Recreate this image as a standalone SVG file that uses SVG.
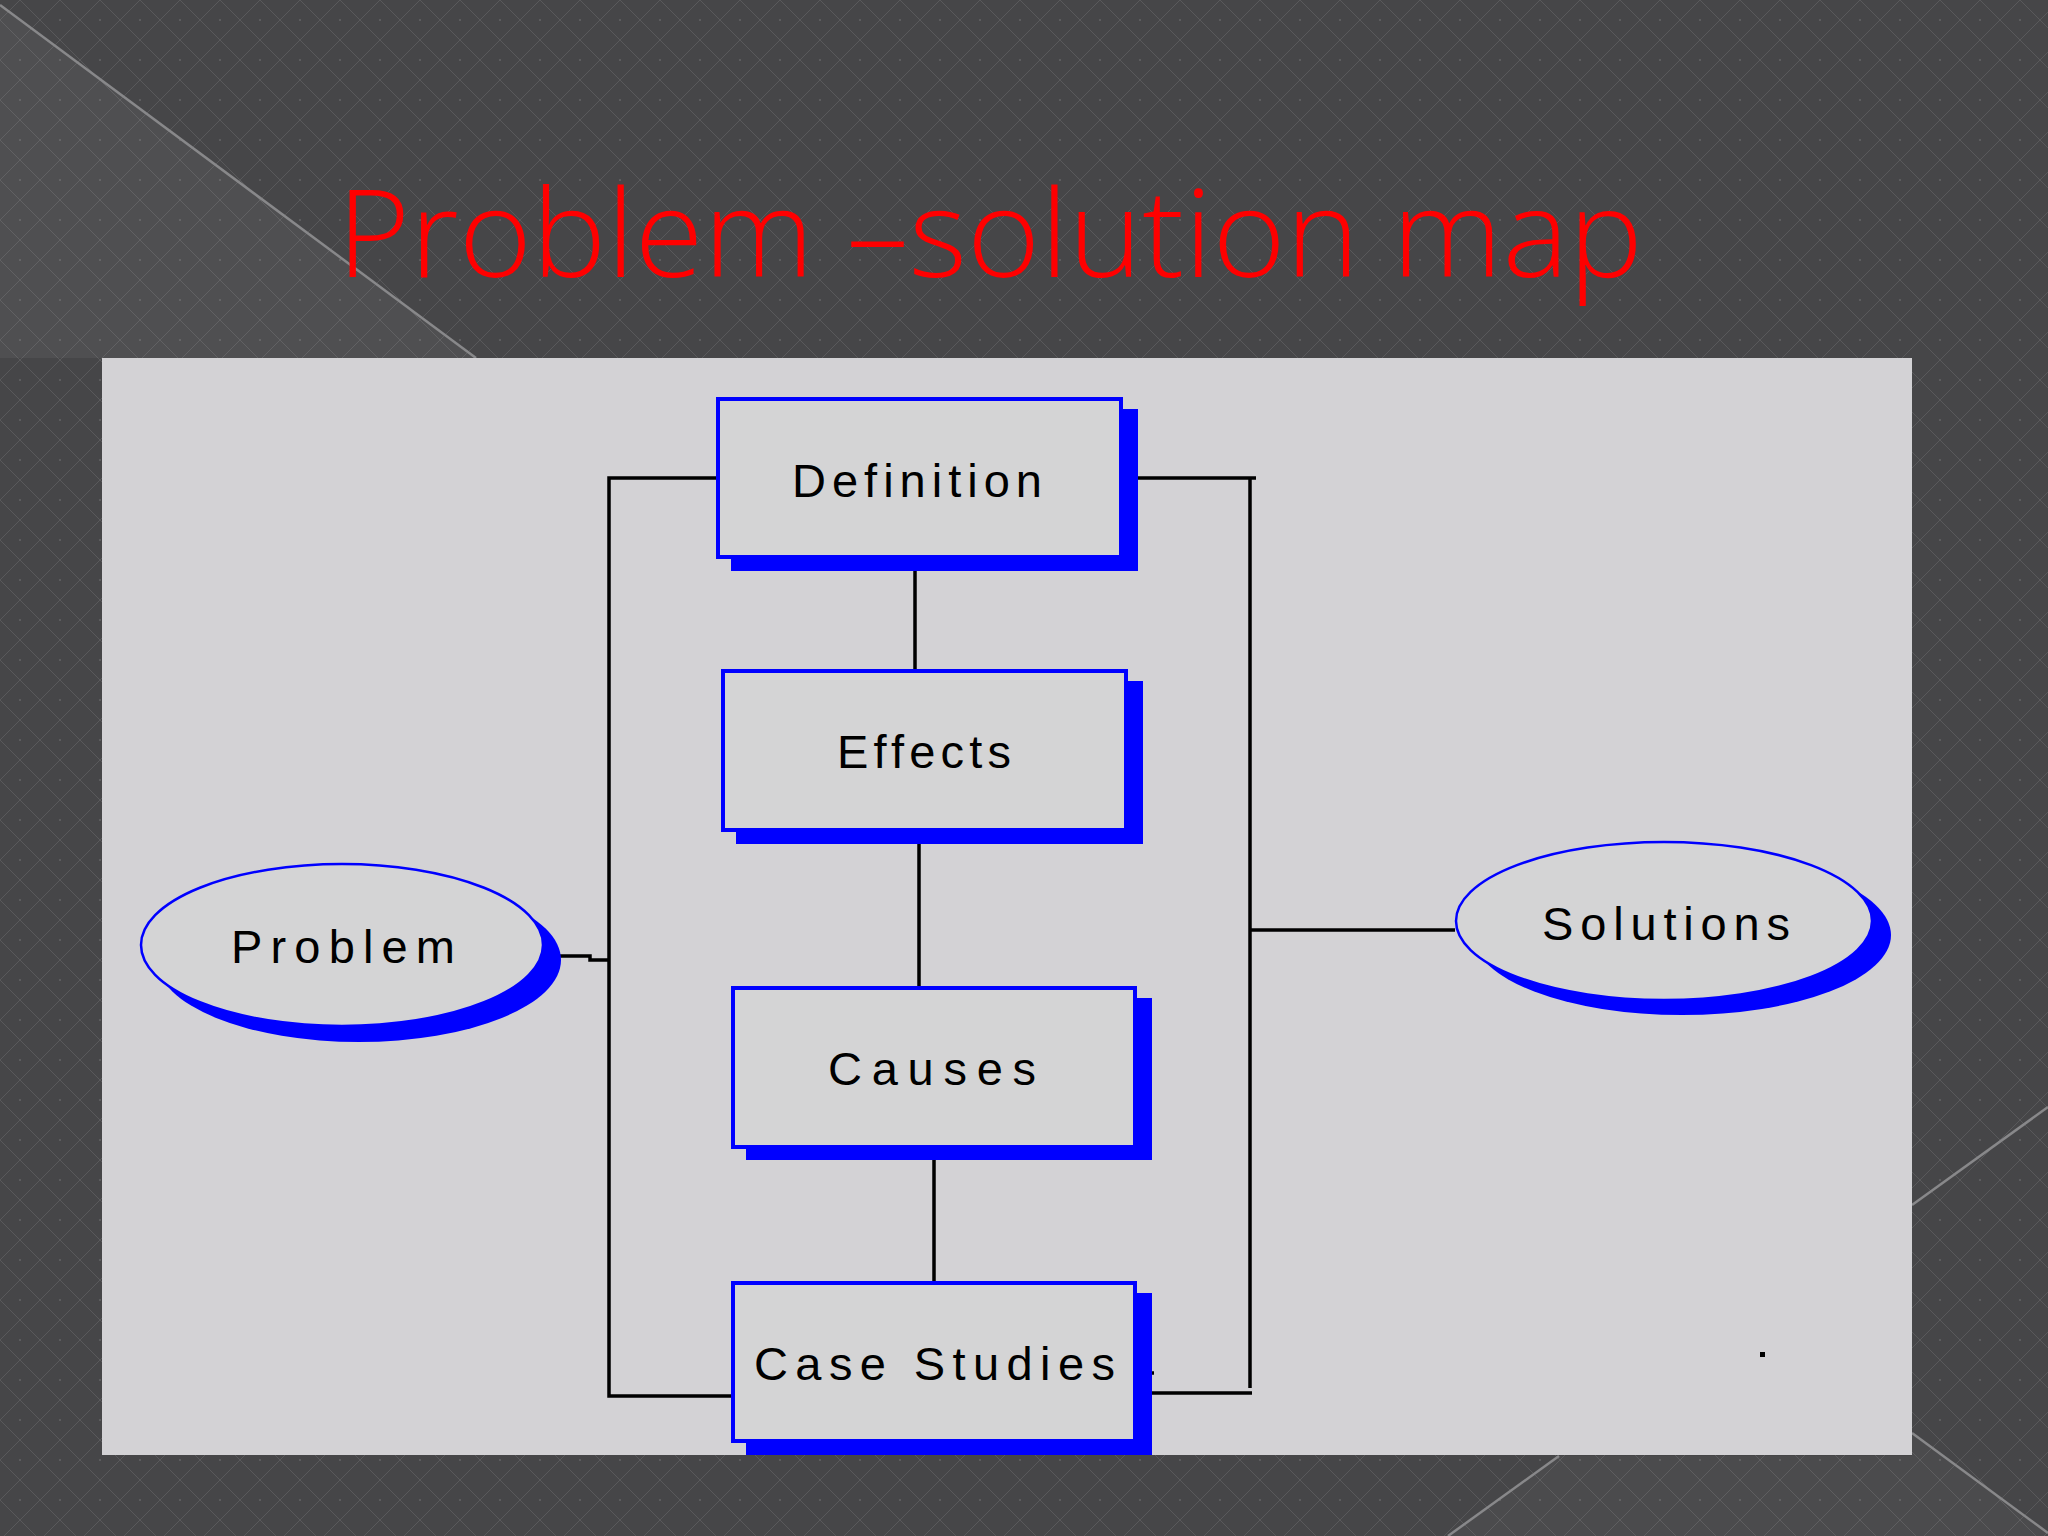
<svg xmlns="http://www.w3.org/2000/svg" width="2048" height="1536" viewBox="0 0 2048 1536">
<style>
.box{fill:#d4d4d5;stroke:#0000ff;stroke-width:4}
.shadow{fill:#0000ff}
.ell{fill:#d4d4d5;stroke:#0000ff;stroke-width:2.5}
.lbl{font-family:"Liberation Sans",Arial,sans-serif;font-size:47px;fill:#000}
.conn{fill:none;stroke:#000;stroke-width:3.5}
.deco{stroke:#88888a;stroke-width:2.5;fill:none}
</style>
<defs>
<pattern id="dia" width="40" height="40" patternUnits="userSpaceOnUse">
<path d="M0,20 L20,0 L40,20 L20,40 Z" fill="none" stroke="#59595b" stroke-width="1"/>
<rect x="19" y="19" width="2" height="2" fill="#5c5c5e"/>
</pattern>
</defs>
<rect x="0" y="0" width="2048" height="1536" fill="#464648"/>
<rect x="0" y="0" width="2048" height="1536" fill="url(#dia)"/>
<polygon points="0,5 476,358 0,358" fill="#ffffff" fill-opacity="0.05"/>
<polygon points="1448,1536 1559,1456 1912,1456 1912,1433 2048,1533 2048,1536" fill="#ffffff" fill-opacity="0.03"/>
<line class="deco" x1="0" y1="5" x2="476" y2="358"/>
<line class="deco" x1="1912" y1="1205" x2="2048" y2="1107"/>
<line class="deco" x1="1912" y1="1433" x2="2048" y2="1533"/>
<line class="deco" x1="1559" y1="1456" x2="1448" y2="1536"/>
<text x="337" y="277" font-family="'Open Sans','Liberation Sans',sans-serif" font-weight="300" font-size="122" fill="#ff0000" textLength="1306" lengthAdjust="spacingAndGlyphs">Problem –solution map</text>
<rect x="102" y="358" width="1810" height="1097" fill="#d3d2d5"/>
<g id="connectors">
<path class="conn" d="M716,478 H609 V1396 H731"/>
<path class="conn" d="M559,956 H590 V960 H609"/>
<path class="conn" d="M1131,478 H1256 M1250,478 V1388 M1149,1393 H1252"/>
<path class="conn" d="M1250,930 H1455"/>
<path class="conn" d="M915,559 V669 M919,844 V986 M934,1160 V1281"/>
<path class="conn" d="M1144,1373 H1154" stroke-width="3"/>
</g>
<g id="definition">
<rect class="shadow" x="731" y="409" width="407" height="162"/>
<rect class="box" x="718" y="399" width="403" height="158"/>
<text class="lbl" x="792" y="497" textLength="250" lengthAdjust="spacing">Definition</text>
</g>
<g id="effects">
<rect class="shadow" x="736" y="681" width="407" height="163"/>
<rect class="box" x="723" y="671" width="403" height="159"/>
<text class="lbl" x="837" y="768" textLength="174" lengthAdjust="spacing">Effects</text>
</g>
<g id="causes">
<rect class="shadow" x="746" y="998" width="406" height="162"/>
<rect class="box" x="733" y="988" width="402" height="159"/>
<text class="lbl" x="828" y="1085" textLength="208" lengthAdjust="spacing">Causes</text>
</g>
<g id="case-studies">
<rect class="shadow" x="746" y="1293" width="406" height="162"/>
<rect class="box" x="733" y="1283" width="402" height="158"/>
<text class="lbl" x="754" y="1380" textLength="361" lengthAdjust="spacing">Case Studies</text>
</g>
<g id="problem">
<ellipse class="shadow" cx="359" cy="960" rx="202" ry="82"/>
<ellipse class="ell" cx="342" cy="945" rx="201" ry="81"/>
<text class="lbl" x="231" y="963" textLength="224" lengthAdjust="spacing">Problem</text>
</g>
<g id="solutions">
<ellipse class="shadow" cx="1682" cy="935" rx="209" ry="80"/>
<ellipse class="ell" cx="1664" cy="921" rx="208" ry="79"/>
<text class="lbl" x="1542" y="940" textLength="248" lengthAdjust="spacing">Solutions</text>
</g>
<rect x="1760" y="1352" width="5" height="5" fill="#000"/>
</svg>
